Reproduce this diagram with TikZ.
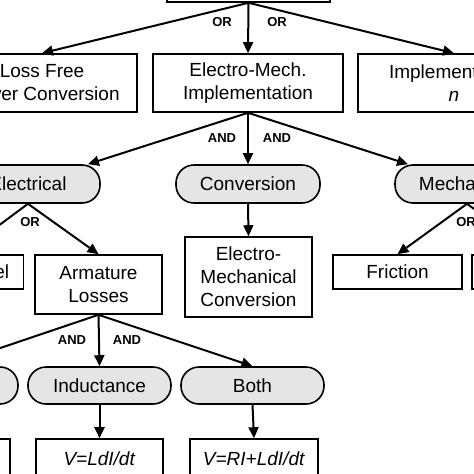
\documentclass[tikz,border=0pt]{standalone}
\usepackage{fontspec}
\setmainfont{Liberation Sans}
\usetikzlibrary{arrows.meta}
\tikzset{
  box/.style={draw=black, line width=1.6pt, fill=white, align=center, inner sep=0pt,
    font=\fontsize{19}{23}\selectfont},
  pill/.style={draw=black, line width=1.6pt, fill=gray!20, rounded corners=18pt, align=center, inner sep=0pt,
    minimum width=144pt, minimum height=38pt, font=\fontsize{19}{23}\selectfont},
  conn/.style={line width=2pt, -{Triangle[length=11pt,width=10pt]}},
  lbl/.style={font=\fontsize{13}{15}\selectfont\bfseries, inner sep=0pt},
}
\begin{document}
\begin{tikzpicture}[x=1pt,y=-1pt]
\useasboundingbox (0,0) rectangle (474,474);
\clip (0,0) rectangle (474,474);
% top (cut) box
\node[box, minimum width=163pt, minimum height=40pt] (top) at (248.5,-18) {};
% row 1
\node[box, minimum width=190pt, minimum height=58pt] (lossfree) at (42,83) {Loss Free\\Power Conversion};
\node[box, minimum width=190pt, minimum height=58pt] (emimpl) at (248,83) {Electro-Mech.\\Implementation};
\node[box, minimum width=192pt, minimum height=58pt] (impln) at (454,83) {Implementation\\\textit{n}};
% row 2
\node[pill] (elec) at (28,184) {Electrical};
\node[pill] (conv) at (248,184) {Conversion};
\node[pill] (mech) at (467,184) {Mechanical};
% row 3
\node[box, minimum width=127pt, minimum height=34pt] (ideal) at (-40,272) {Ideal Model};
\node[box, minimum width=127pt, minimum height=59pt] (armature) at (98.5,284.5) {Armature\\Losses};
\node[box, minimum width=127pt, minimum height=80pt] (emconv) at (248.5,277) {Electro-\\Mechanical\\Conversion};
\node[box, minimum width=129pt, minimum height=34pt] (friction) at (397.5,272) {Friction};
\node[box, minimum width=129pt, minimum height=34pt] (rightbox) at (536.5,272) {};
% row 4
\node[pill, minimum width=143pt, minimum height=37pt] (resist) at (-53.5,385.5) {};
\node[pill, minimum width=143pt, minimum height=37pt] (induct) at (99.5,385.5) {Inductance};
\node[pill, minimum width=143pt, minimum height=37pt] (both) at (252.5,385.5) {Both};
% row 5
\node[box, minimum width=127pt, minimum height=40pt] (vri) at (-53.5,459) {};
\node[box, minimum width=127pt, minimum height=40pt] (vl) at (99.5,459) {\textit{V=LdI/dt}};
\node[box, minimum width=128pt, minimum height=40pt] (vrl) at (254,459) {\textit{V=RI+LdI/dt}};
% connectors
\draw[conn] (top.south) -- (lossfree.north);
\draw[conn] (top.south) -- (emimpl.north);
\draw[conn] (top.south) -- (impln.north);
\draw[conn] (emimpl.south) -- ([xshift=60pt]elec.north);
\draw[conn] (emimpl.south) -- (conv.north);
\draw[conn] (emimpl.south) -- ([xshift=-59pt]mech.north);
\draw[conn] (elec.south) -- (ideal.north);
\draw[conn] (elec.south) -- (armature.north);
\draw[conn] (conv.south) -- (emconv.north);
\draw[conn] (mech.south) -- (friction.north);
\draw[conn] (mech.south) -- (rightbox.north);
\draw[conn] (armature.south) -- (resist.north);
\draw[conn] (armature.south) -- (induct.north);
\draw[conn] (armature.south) -- (both.north);
\draw[conn] (resist.south) -- (vri.north);
\draw[conn] (induct.south) -- (vl.north);
\draw[conn] (both.south) -- (vrl.north);
% labels
\node[lbl] (or1) at (222,22) {OR};
\node[lbl] (or2) at (277,22) {OR};
\node[lbl] (and1) at (222,138) {AND};
\node[lbl] (and2) at (277,138) {AND};
\node[lbl] (or3) at (30,222) {OR};
\node[lbl] (or4) at (466,222) {OR};
\node[lbl] (and3) at (72,340) {AND};
\node[lbl] (and4) at (127,340) {AND};
\end{tikzpicture}
\end{document}
